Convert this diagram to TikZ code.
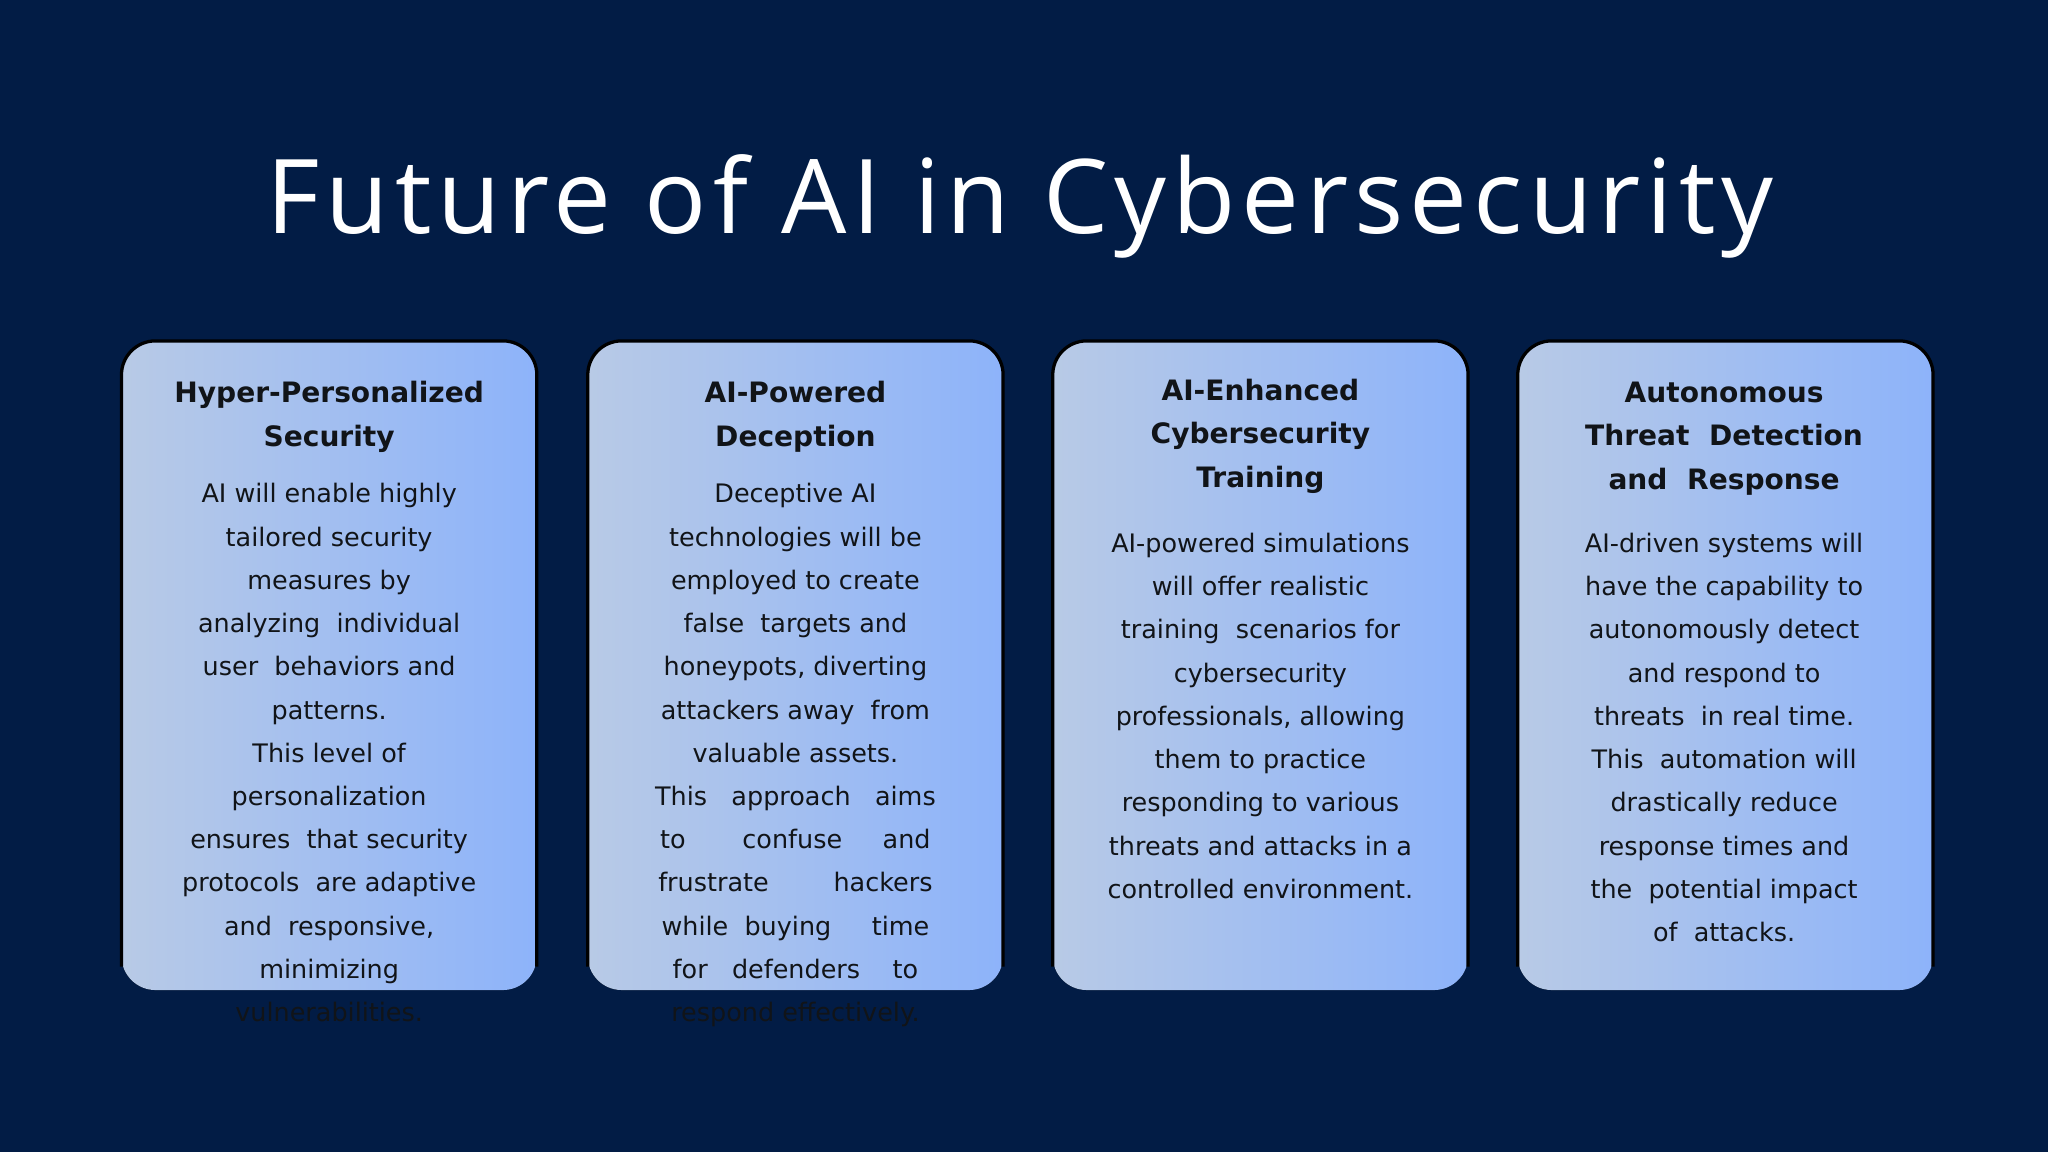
\documentclass[tikz,border=0pt]{standalone}
\usepackage{fontspec}
\setmainfont{DejaVu Sans}
\newfontfamily\titlefont{Open Sans}
\definecolor{bg}{HTML}{021C45}
\definecolor{cl}{HTML}{B8CAE6}
\definecolor{cr}{HTML}{8DB3FA}
\definecolor{tx}{HTML}{111418}
\tikzset{
 card/.style={left color=cl,right color=cr,draw=none,rounded corners=26pt},
 rim/.style={draw=black,line width=2.5pt,rounded corners=26pt},
 head/.style={anchor=north,align=center,font=\fontsize{21.5}{33.3}\selectfont\bfseries,text=tx,inner sep=0pt},
 body/.style={anchor=north,align=center,font=\fontsize{19.5}{33.1}\selectfont,text=tx,inner sep=0pt},
}
\begin{document}
\begin{tikzpicture}[x=1pt,y=-1pt]
\fill[bg] (0,0) rectangle (1568,882);
\useasboundingbox (0,0) rectangle (1568,882);
\node[text=white,font=\titlefont\fontsize{79}{85}\selectfont,inner sep=0pt] (title) at (781,158) {\addfontfeatures{LetterSpace=6}Future of AI in Cybersecurity};
\foreach \x/\n in {93/c1,450/c2,806/c3,1162/c4}{
 \fill[card] (\x,261) rectangle ++(318,497);
 \draw[rim] (\x,740) -- (\x,261) -- (\x+318,261) -- (\x+318,740);
 \coordinate (\n) at (\x+159,261);
}
\node[head] (h1) at (252,292) {Hyper-Personalized\\Security};
\node[body] (b1) at (252,370) {AI will enable highly\\tailored security\\measures by\\analyzing~ individual\\user~ behaviors and\\patterns.\\This level of\\personalization\\ensures~ that security\\protocols~ are adaptive\\and~ responsive,\\minimizing\\vulnerabilities.};
\node[head] (h2) at (609,292) {AI-Powered\\Deception};
\node[body] (b2) at (609,370) {Deceptive AI\\technologies will be\\employed to create\\false~ targets and\\honeypots, diverting\\attackers away~ from\\valuable assets.\\This~~ approach~~ aims\\to~~~~~~ confuse~~~~ and\\frustrate~~~~~~~ hackers\\while~ buying~~~~ time\\for~~ defenders~~~ to\\respond effectively.};
\node[head] (h3) at (965,290) {AI-Enhanced\\Cybersecurity\\Training};
\node[body] (b3) at (965,408) {AI-powered simulations\\will offer realistic\\training~ scenarios for\\cybersecurity\\professionals, allowing\\them to practice\\responding to various\\threats and attacks in a\\controlled environment.};
\node[head] (h4) at (1320,292) {Autonomous\\Threat~ Detection\\and~ Response};
\node[body] (b4) at (1320,408) {AI-driven systems will\\have the capability to\\autonomously detect\\and respond to\\threats~ in real time.\\This~ automation will\\drastically reduce\\response times and\\the~ potential impact\\of~ attacks.};
\end{tikzpicture}
\end{document}
